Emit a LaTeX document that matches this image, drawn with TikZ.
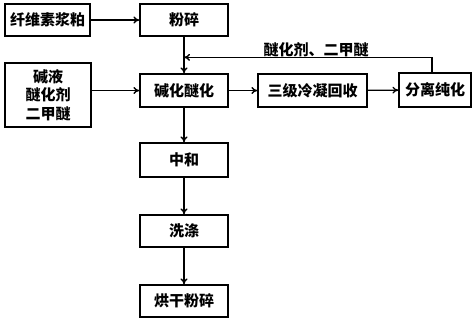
\documentclass[tikz,border=0pt]{standalone}
\usepackage{fontspec}
\newfontfamily\cjk{Noto Sans CJK SC}
\usetikzlibrary{arrows.meta, positioning, calc}

\begin{document}
\begin{tikzpicture}[x=1pt, y=-1pt, >={To[length=6pt,width=7pt]},
    box/.style={draw, line width=1.3pt, inner sep=0pt, align=center,
                font=\cjk\bfseries\fontsize{15}{18.5}\selectfont},
    flow/.style={->, line width=1.3pt}]
  \useasboundingbox (0,0) rectangle (474,322);

  % Top row
  \node[box, minimum width=85pt, minimum height=32pt] (pulp) at (47.5,20) {纤维素浆粕};
  \node[box, minimum width=88pt, minimum height=32pt] (crush) at (184,20) {粉碎};

  % Reaction row
  \node[box, minimum width=86pt, minimum height=64pt] (feed) at (48,95) {碱液\\醚化剂\\二甲醚};
  \node[box, minimum width=88pt, minimum height=33pt] (ether) at (184,90.5) {碱化醚化};
  \node[box, minimum width=109pt, minimum height=33pt] (cond) at (312.5,90.5) {三级冷凝回收};
  \node[box, minimum width=72pt, minimum height=34pt] (sep) at (435,90) {分离纯化};

  % Post-treatment column
  \node[box, minimum width=88pt, minimum height=34pt] (neut) at (184,160) {中和};
  \node[box, minimum width=88pt, minimum height=32pt] (wash) at (184,231) {洗涤};
  \node[box, minimum width=88pt, minimum height=32pt] (dry) at (184,301) {烘干粉碎};

  % Main flow
  \draw[flow] (pulp) -- (crush);
  \draw[flow] (crush) -- (ether);
  \draw[flow] (feed.east |- ether) -- (ether);
  \draw[flow] (ether) -- (cond);
  \draw[flow] (cond) -- (sep);
  \draw[flow] (ether) -- (neut);
  \draw[flow] (neut) -- (wash);
  \draw[flow] (wash) -- (dry);

  % Recycle loop
  \coordinate (up) at ($(sep.north)+(-3,-15)$);
  \draw[flow] (sep.north -| up) -- (up) -- (up -| crush.south);
  \node[font=\cjk\bfseries\fontsize{15}{18}\selectfont] (recyc) at (316,50) {醚化剂、二甲醚};
\end{tikzpicture}
\end{document}
